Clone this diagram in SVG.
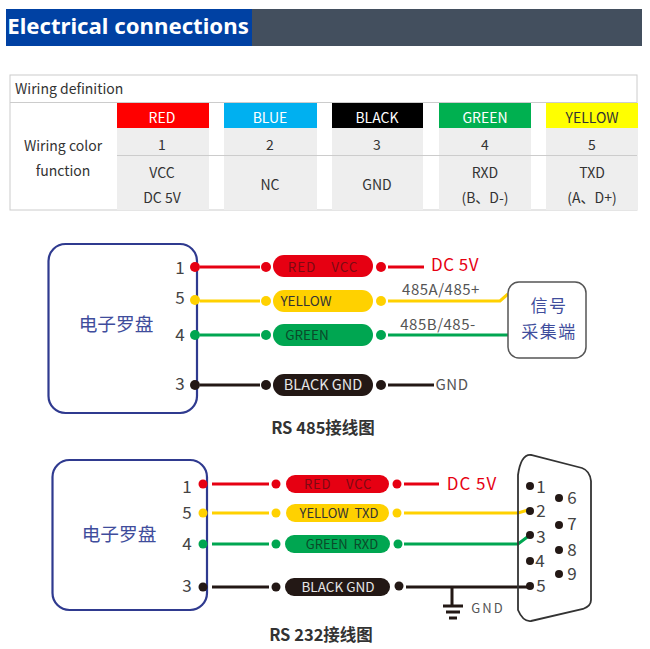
<svg xmlns="http://www.w3.org/2000/svg" width="650" height="649" viewBox="0 0 650 649">
<style>
text{font-family:"Noto Sans CJK SC","Noto Sans",sans-serif;text-anchor:middle}
.t{font-size:14px;fill:#333}
.cell{fill:#eee}
.grid{stroke:#ccc;stroke-width:1;fill:none}
.box{fill:#fff;stroke:#2f3a8f;stroke-width:2.2}
.zh{font-size:18.700px;fill:#3f4d9c}
.n{font-size:17px;fill:#444}
.p{font-size:13.500px}
.q{font-size:13px}
.r{stroke:#e60012;fill:#e60012}.y{stroke:#ffd100;fill:#ffd100}.g{stroke:#00a651;fill:#00a651}.k{stroke:#231815;fill:#231815}
.w{fill:none;stroke-width:3}
.d{stroke:none}
.lab{font-size:15px;fill:#555;letter-spacing:.5px}
.cap{font-size:16.500px;font-weight:700;fill:#333}
</style>
<g id="header">
<rect x="6" y="9" width="636" height="37" fill="#434f5e"/>
<rect x="6" y="9" width="246" height="37" fill="#0041a3"/>
<text x="128" y="34" style="font-family:'Noto Sans',sans-serif;font-size:22.200px;font-weight:700" fill="#fff">Electrical connections</text>
</g>
<g id="wiring-table">
<rect class="grid" x="10" y="75" width="627" height="135"/>
<line class="grid" x1="10" y1="102.500" x2="637" y2="102.500"/>
<text class="t" x="15" y="94" style="text-anchor:start">Wiring definition</text>
<text class="t" x="63" y="151">Wiring color</text>
<text class="t" x="63" y="176">function</text>
<g id="col-1">
<rect x="117" y="103" width="92" height="25" fill="#f00"/><rect class="cell" x="117" y="128" width="92" height="82"/>
<text class="t" x="162" y="123" style="fill:#fff">RED</text><text class="t" x="162" y="150">1</text><text class="t" x="162" y="178">VCC</text><text class="t" x="162" y="203">DC 5V</text></g>
<g id="col-2">
<rect x="224" y="103" width="93" height="25" fill="#00b0f0"/><rect class="cell" x="224" y="128" width="93" height="82"/>
<text class="t" x="270" y="123" style="fill:#fff">BLUE</text><text class="t" x="270" y="150">2</text><text class="t" x="270" y="190">NC</text></g>
<g id="col-3">
<rect x="332" y="103" width="91" height="25" fill="#000"/><rect class="cell" x="332" y="128" width="91" height="82"/>
<text class="t" x="377" y="123" style="fill:#fff">BLACK</text><text class="t" x="377" y="150">3</text><text class="t" x="377" y="190">GND</text></g>
<g id="col-4">
<rect x="439" y="103" width="92" height="25" fill="#00b050"/><rect class="cell" x="439" y="128" width="92" height="82"/>
<text class="t" x="485" y="123" style="fill:#fff">GREEN</text><text class="t" x="485" y="150">4</text><text class="t" x="485" y="178">RXD</text><text class="t" x="485" y="203">(B、D-)</text></g>
<g id="col-5">
<rect x="546" y="103" width="92" height="25" fill="#ff0"/><rect class="cell" x="546" y="128" width="92" height="82"/>
<text class="t" x="592" y="123">YELLOW</text><text class="t" x="592" y="150">5</text><text class="t" x="592" y="178">TXD</text><text class="t" x="592" y="203">(A、D+)</text></g>
<line class="grid" x1="117" y1="155.500" x2="637" y2="155.500"/>
</g>
<g id="connectors">
<path class="r w" d="M200 267H260M388 267H424"/>
<path class="y w" d="M200 301H260M388 301H500L508 294"/>
<path class="g w" d="M200 335H260M388 335H508"/>
<path class="k w" d="M200 385H260M388 385H434"/>
<path class="r w" d="M212 484H269M404 484H439"/>
<path class="y w" d="M212 513H269M404 513H518L528 510"/>
<path class="g w" d="M212 544H269M404 544H518L530 535"/>
<path class="k w" d="M212 587H269M406 587H530M452 587V606"/>
<path class="k w" d="M443 606H463M446 612H460M449 618H457"/>
</g>
<g id="compass-485">
<rect class="box" x="48.500" y="244" width="148.500" height="169" rx="17"/>
<text class="zh" x="116" y="331">电子罗盘</text>
<text class="n" x="180" y="274">1</text><text class="n" x="180" y="304">5</text><text class="n" x="180" y="341">4</text><text class="n" x="180" y="390">3</text>
<circle class="r d" cx="195" cy="267" r="5"/><circle class="y d" cx="195" cy="300" r="5"/><circle class="g d" cx="195" cy="335" r="5"/><circle class="k d" cx="195" cy="385" r="5"/>
</g>
<g id="cable-red-485"><circle class="r d" cx="266" cy="267" r="5"/><rect class="r d" x="273" y="255" width="100" height="22" rx="11"/><circle class="r d" cx="381" cy="267" r="5"/><text class="p" x="323" y="272" fill="#7c0a12" letter-spacing=".8">RED&#160;&#160;&#160;&#160;VCC</text></g>
<g id="cable-yellow-485"><circle class="y d" cx="266" cy="301" r="5"/><rect class="y d" x="273" y="290" width="100" height="22" rx="11"/><circle class="y d" cx="381" cy="301" r="5"/><text class="p" x="306" y="306" fill="#333">YELLOW</text></g>
<g id="cable-green-485"><circle class="g d" cx="266" cy="335" r="5"/><rect class="g d" x="273" y="324" width="100" height="22" rx="11"/><circle class="g d" cx="381" cy="335" r="5"/><text class="p" x="307" y="340" fill="#0b4a2a">GREEN</text></g>
<g id="cable-black-485"><circle class="k d" cx="266" cy="385" r="5"/><rect class="k d" x="273" y="374" width="100" height="22" rx="11"/><circle class="k d" cx="381" cy="385" r="5"/><text x="323" y="390" style="font-size:14.500px" fill="#e6e6e6">BLACK GND</text></g>
<text x="455" y="271" style="font-size:17px;letter-spacing:.5px" fill="#e60012">DC 5V</text>
<text class="lab" x="441" y="295">485A/485+</text>
<text class="lab" x="438" y="330">485B/485-</text>
<text class="lab" x="452" y="390">GND</text>
<g id="collector">
<rect x="508" y="282" width="78" height="76" rx="11" fill="#fff" stroke="#555" stroke-width="1.500"/>
<text class="zh" x="549" y="312" style="font-size:17px;letter-spacing:1.500px">信号<tspan x="549" dy="25.500">采集端</tspan></text>
</g>
<text class="cap" x="323" y="434">RS 485接线图</text>
<g id="compass-232">
<rect class="box" x="52.500" y="460" width="154.500" height="150" rx="17"/>
<text class="zh" x="119" y="541">电子罗盘</text>
<text class="n" x="187" y="493">1</text><text class="n" x="187" y="519">5</text><text class="n" x="187" y="550">4</text><text class="n" x="187" y="592">3</text>
<circle class="r d" cx="203" cy="484" r="4.500"/><circle class="y d" cx="203" cy="513" r="4.500"/><circle class="g d" cx="203" cy="544" r="4.500"/><circle class="k d" cx="203" cy="587" r="4.500"/>
</g>
<g id="cable-red-232"><circle class="r d" cx="276" cy="484" r="4.500"/><rect class="r d" x="286" y="475" width="103" height="18" rx="9"/><circle class="r d" cx="397" cy="484" r="4.500"/><text class="q" x="338" y="489" fill="#7c0a12" letter-spacing=".8">RED&#160;&#160;&#160;&#160;VCC</text></g>
<g id="cable-yellow-232"><circle class="y d" cx="276" cy="513" r="4.500"/><rect class="y d" x="286" y="504" width="103" height="18" rx="9"/><circle class="y d" cx="397" cy="513" r="4.500"/><text class="q" x="339" y="518" fill="#333">YELLOW&#160;&#160;TXD</text></g>
<g id="cable-green-232"><circle class="g d" cx="276" cy="544" r="4.500"/><rect class="g d" x="285" y="535" width="105" height="18" rx="9"/><circle class="g d" cx="398" cy="544" r="4.500"/><text class="q" x="342" y="549" fill="#0b4a2a">GREEN&#160;&#160;RXD</text></g>
<g id="cable-black-232"><circle class="k d" cx="276" cy="587" r="4.500"/><rect class="k d" x="285" y="578" width="105" height="18" rx="9"/><circle class="k d" cx="399" cy="586" r="4.500"/><text x="338" y="592" style="font-size:13.500px" fill="#e6e6e6">BLACK GND</text></g>
<text x="472" y="490" style="font-size:17px;letter-spacing:1px" fill="#e60012">DC 5V</text>
<text class="lab" x="488" y="613" style="font-size:13px;letter-spacing:2px">GND</text>
<g id="db9">
<path d="M518 475Q521 454 531 455L582 468Q590 471 591 481V600Q591 606 583 609L531 621Q523 622 518 610Z" fill="none" stroke="#333" stroke-width="1.800"/>
<g fill="#231815"><circle cx="530" cy="486" r="4"/><circle cx="530" cy="511" r="4"/><circle cx="530" cy="535" r="4"/><circle cx="530" cy="561" r="4"/><circle cx="530" cy="586" r="4"/><circle cx="559" cy="498" r="4"/><circle cx="559" cy="525" r="4"/><circle cx="559" cy="550" r="4"/><circle cx="559" cy="574" r="4"/></g>
<text class="n" x="541" y="493">1</text><text class="n" x="541" y="517">2</text><text class="n" x="541" y="543">3</text><text class="n" x="540" y="567">4</text><text class="n" x="541" y="592">5</text><text class="n" x="572" y="504">6</text><text class="n" x="572" y="530">7</text><text class="n" x="572" y="556">8</text><text class="n" x="572" y="580">9</text>
</g>
<text class="cap" x="321" y="641">RS 232接线图</text>
</svg>
